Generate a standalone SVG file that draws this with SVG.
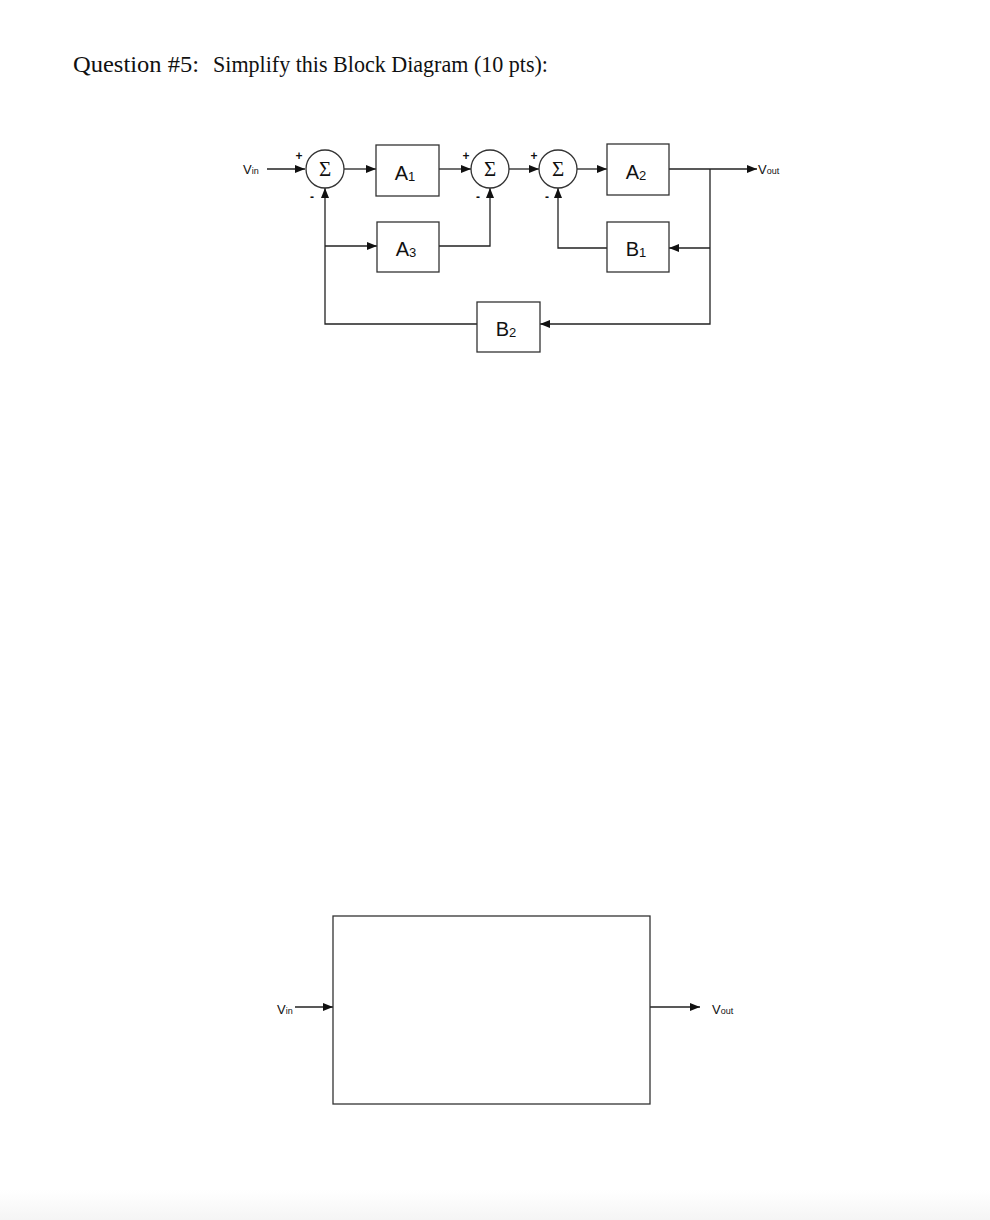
<svg xmlns="http://www.w3.org/2000/svg" width="990" height="1220" viewBox="0 0 990 1220">
<style>
.blk{fill:#fff;stroke:#333;stroke-width:1.3}
.sum{fill:#fff;stroke:#333;stroke-width:1.3}
.ln{fill:none;stroke:#222;stroke-width:1.3}
.lbl{font-family:"Liberation Sans","Open Sans",sans-serif;font-size:20px;fill:#111}
.sub{font-size:13px}
.sig{font-family:"Liberation Serif","DejaVu Serif",serif;font-size:21px;fill:#111}
.sgn{font-family:"Liberation Sans",sans-serif;font-size:12px;font-weight:bold;fill:#111}
.io{font-family:"Liberation Sans","Open Sans",sans-serif;font-size:13px;fill:#111}
.ios{font-size:9px}
.title{font-family:"Liberation Serif","Times New Roman",serif;font-size:24px;fill:#111}
</style>
<defs>
<marker id="ah" markerUnits="userSpaceOnUse" markerWidth="11" markerHeight="9" refX="10" refY="4" orient="auto">
<path d="M0,0 L10,4 L0,8 z" fill="#111"/>
</marker>
<linearGradient id="fade" x1="0" y1="0" x2="0" y2="1">
<stop offset="0" stop-color="#fff"/>
<stop offset="1" stop-color="#f5f5f5"/>
</linearGradient>
</defs>
<rect x="0" y="0" width="990" height="1220" fill="#fff"/>
<rect x="0" y="1190" width="990" height="30" fill="url(#fade)"/>
<text class="title" x="73" y="72" textLength="126" lengthAdjust="spacingAndGlyphs">Question #5:</text>
<text class="title" x="213" y="72" textLength="335" lengthAdjust="spacingAndGlyphs">Simplify this Block Diagram (10 pts):</text>

<g id="connectors">
<line class="ln" x1="267" y1="169" x2="305" y2="169" marker-end="url(#ah)"/>
<line class="ln" x1="344" y1="169" x2="376" y2="169" marker-end="url(#ah)"/>
<line class="ln" x1="439" y1="169" x2="471" y2="169" marker-end="url(#ah)"/>
<line class="ln" x1="509" y1="169" x2="539" y2="169" marker-end="url(#ah)"/>
<line class="ln" x1="577" y1="169" x2="607" y2="169" marker-end="url(#ah)"/>
<line class="ln" x1="669" y1="169" x2="757" y2="169" marker-end="url(#ah)"/>
<polyline class="ln" points="710,169 710,324 540,324" marker-end="url(#ah)"/>
<line class="ln" x1="710" y1="248" x2="669" y2="248" marker-end="url(#ah)"/>
<polyline class="ln" points="607,248 558,248 558,188" marker-end="url(#ah)"/>
<polyline class="ln" points="477,324 325,324 325,188" marker-end="url(#ah)"/>
<line class="ln" x1="325" y1="246" x2="377" y2="246" marker-end="url(#ah)"/>
<polyline class="ln" points="439,246 490,246 490,188" marker-end="url(#ah)"/>
<line class="ln" x1="295" y1="1007" x2="333" y2="1007" marker-end="url(#ah)"/>
<line class="ln" x1="650" y1="1007" x2="700" y2="1007" marker-end="url(#ah)"/>
</g>

<g id="vin-top"><text class="io" x="243" y="174">V<tspan class="ios">in</tspan></text></g>
<g id="vout-top"><text class="io" x="758" y="174">V<tspan class="ios">out</tspan></text></g>

<g id="sum1">
<circle class="sum" cx="325" cy="169" r="19"/>
<text class="sig" x="325" y="176" text-anchor="middle">Σ</text>
<text class="sgn" x="299" y="160" text-anchor="middle">+</text>
<text class="sgn" x="312" y="201" text-anchor="middle">-</text>
</g>
<g id="sum2">
<circle class="sum" cx="490" cy="169" r="19"/>
<text class="sig" x="490" y="176" text-anchor="middle">Σ</text>
<text class="sgn" x="466" y="160" text-anchor="middle">+</text>
<text class="sgn" x="478" y="201" text-anchor="middle">-</text>
</g>
<g id="sum3">
<circle class="sum" cx="558" cy="169" r="19"/>
<text class="sig" x="558" y="176" text-anchor="middle">Σ</text>
<text class="sgn" x="534" y="160" text-anchor="middle">+</text>
<text class="sgn" x="547" y="201" text-anchor="middle">-</text>
</g>

<g id="A1">
<rect class="blk" x="376" y="145" width="63" height="51"/>
<text class="lbl" x="405" y="180" text-anchor="middle">A<tspan class="sub" dy="1">1</tspan></text>
</g>
<g id="A2">
<rect class="blk" x="607" y="144" width="62" height="51"/>
<text class="lbl" x="636" y="179" text-anchor="middle">A<tspan class="sub" dy="1">2</tspan></text>
</g>
<g id="A3">
<rect class="blk" x="377" y="222" width="62" height="50"/>
<text class="lbl" x="406" y="256" text-anchor="middle">A<tspan class="sub" dy="1">3</tspan></text>
</g>
<g id="B1">
<rect class="blk" x="607" y="222" width="62" height="50"/>
<text class="lbl" x="636" y="256" text-anchor="middle">B<tspan class="sub" dy="1">1</tspan></text>
</g>
<g id="B2">
<rect class="blk" x="477" y="302" width="63" height="50"/>
<text class="lbl" x="506" y="336" text-anchor="middle">B<tspan class="sub" dy="1">2</tspan></text>
</g>

<g id="answer-box">
<rect class="blk" x="333" y="916" width="317" height="188"/>
</g>
<g id="vin-bottom"><text class="io" x="277" y="1014">V<tspan class="ios">in</tspan></text></g>
<g id="vout-bottom"><text class="io" x="712" y="1014">V<tspan class="ios">out</tspan></text></g>
</svg>
